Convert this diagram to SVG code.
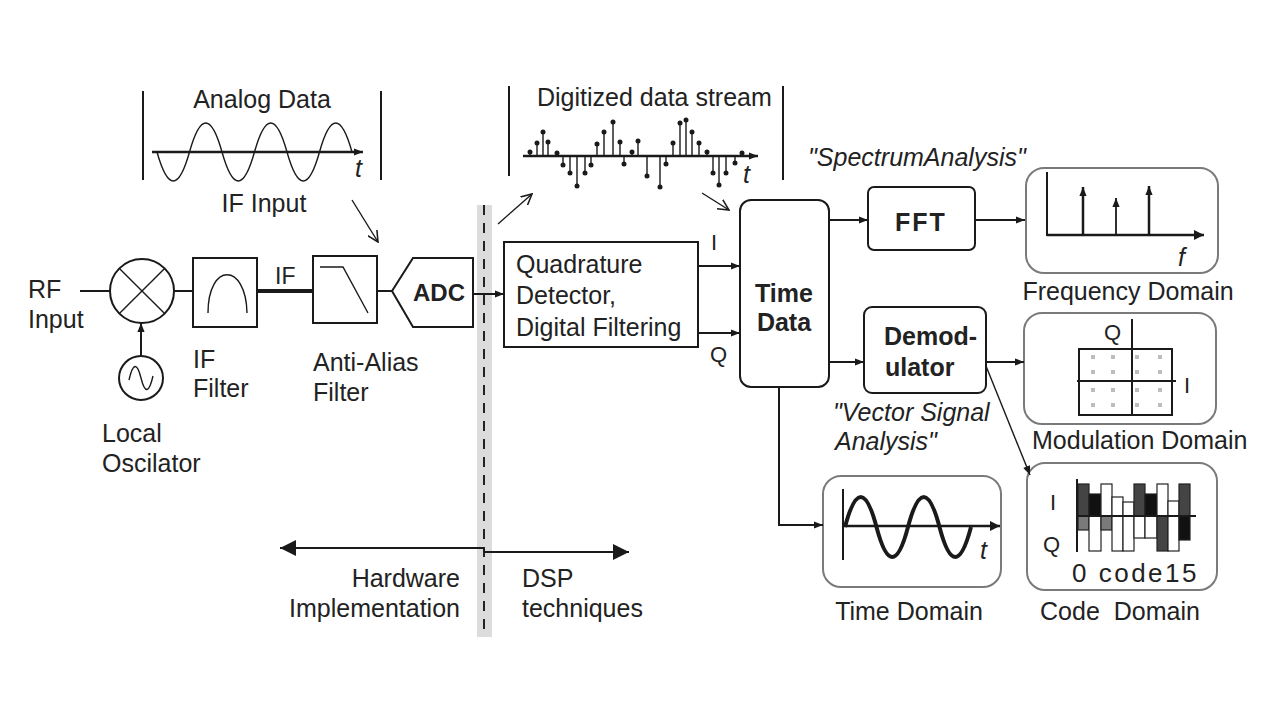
<svg xmlns="http://www.w3.org/2000/svg" width="1280" height="720" viewBox="0 0 1280 720">
<style>
text{font-family:"Liberation Sans",Arial,sans-serif;font-size:25px;fill:#222}
.b{font-weight:bold}
.it{font-style:italic}
.mid{text-anchor:middle}
.end{text-anchor:end}
.ln{stroke:#1a1a1a;stroke-width:2;fill:none}
.thin{stroke:#1a1a1a;stroke-width:1.4;fill:none}
.box{stroke:#1a1a1a;stroke-width:2;fill:#fff}
.panel{stroke:#7a7a7a;stroke-width:2;fill:#fff}
.bar{stroke:#222;stroke-width:1.2}
</style>
<defs>
<marker id="arr" viewBox="0 0 10 10" refX="10" refY="5" markerWidth="10" markerHeight="9" markerUnits="userSpaceOnUse" orient="auto"><path d="M0,1 L10,5 L0,9 z" fill="#1a1a1a"/></marker>
<marker id="arrs" viewBox="0 0 10 10" refX="10" refY="5" markerWidth="12" markerHeight="10" markerUnits="userSpaceOnUse" orient="auto"><path d="M0,0 L10,5 L0,10 z" fill="#1a1a1a"/></marker>
<marker id="big" viewBox="0 0 10 10" refX="10" refY="5" markerWidth="22" markerHeight="16" markerUnits="userSpaceOnUse" orient="auto"><path d="M0,0 L10,5 L0,10 z" fill="#1a1a1a"/></marker>
<marker id="open" viewBox="0 0 10 10" refX="9" refY="5" markerWidth="12" markerHeight="12" markerUnits="userSpaceOnUse" orient="auto"><path d="M0,0.5 L9,5 L0,9.5" fill="none" stroke="#1a1a1a" stroke-width="1.3"/></marker>
<clipPath id="clipR"><rect x="0" y="0" width="1248" height="720"/></clipPath>
</defs>
<rect width="1280" height="720" fill="#fff"/>

<!-- divider band -->
<g id="divider">
<rect x="477" y="205" width="15" height="432" fill="#dcdcdc"/>
<line x1="484" y1="205" x2="484" y2="637" stroke="#222" stroke-width="2" stroke-dasharray="10 8"/>
</g>

<!-- Analog data inset -->
<g id="analog-data">
<line x1="143" y1="91" x2="143" y2="180" class="ln"/>
<line x1="381" y1="91" x2="381" y2="180" class="ln"/>
<text x="262" y="108" class="mid">Analog Data</text>
<line x1="152" y1="152" x2="363" y2="152" stroke="#1a1a1a" stroke-width="2.5" marker-end="url(#arr)"/>
<path d="M157,152 Q173.25,210 189.5,152 Q205.75,94 222,152 Q238.25,210 254.5,152 Q270.75,94 287,152 Q303.25,210 319.5,152 Q335.75,94 352,152" class="thin"/>
<text x="355" y="177" class="it">t</text>
<text x="264" y="212" class="mid">IF Input</text>
</g>

<!-- Digitized data stream inset -->
<g id="digitized-data">
<line x1="509" y1="86" x2="509" y2="176" class="ln"/>
<line x1="783" y1="86" x2="783" y2="180" class="ln"/>
<text x="537" y="106">Digitized data stream</text>
<line x1="523" y1="156" x2="758" y2="156" stroke="#1a1a1a" stroke-width="2.5" marker-end="url(#arr)"/>
<path class="thin" stroke-width="1.6" d="M530,156V152 M537,156V143 M543,156V132 M548,156V142 M557,156V153 M563,156V165 M570,156V173 M577,156V186 M585,156V173 M591,156V165 M597,156V144 M604,156V132 M613,156V122 M620,156V142 M624,156V164 M632,156V152 M638,156V141 M647,156V176 M660,156V187 M666,156V164 M673,156V143 M680,156V123 M686,156V120 M692,156V132 M699,156V143 M707,156V152 M713,156V173 M719,156V185 M726,156V173 M735,156V163 M742,156V153"/>
<g fill="#1a1a1a">
<circle cx="530" cy="152" r="2.5"/><circle cx="537" cy="143" r="2.5"/><circle cx="543" cy="132" r="2.5"/><circle cx="548" cy="142" r="2.5"/><circle cx="557" cy="153" r="2.5"/><circle cx="563" cy="165" r="2.5"/><circle cx="570" cy="173" r="2.5"/><circle cx="577" cy="186" r="2.5"/><circle cx="585" cy="173" r="2.5"/><circle cx="591" cy="165" r="2.5"/><circle cx="597" cy="144" r="2.5"/><circle cx="604" cy="132" r="2.5"/><circle cx="613" cy="122" r="2.5"/><circle cx="620" cy="142" r="2.5"/><circle cx="624" cy="164" r="2.5"/><circle cx="632" cy="152" r="2.5"/><circle cx="638" cy="141" r="2.5"/><circle cx="647" cy="176" r="2.5"/><circle cx="660" cy="187" r="2.5"/><circle cx="666" cy="164" r="2.5"/><circle cx="673" cy="143" r="2.5"/><circle cx="680" cy="123" r="2.5"/><circle cx="686" cy="120" r="2.5"/><circle cx="692" cy="132" r="2.5"/><circle cx="699" cy="143" r="2.5"/><circle cx="707" cy="152" r="2.5"/><circle cx="713" cy="173" r="2.5"/><circle cx="719" cy="185" r="2.5"/><circle cx="726" cy="173" r="2.5"/><circle cx="735" cy="163" r="2.5"/><circle cx="742" cy="153" r="2.5"/>
</g>
<text x="743" y="183" class="it">t</text>
</g>

<!-- RF input label -->
<g id="rf-input">
<text x="28" y="298">RF</text>
<text x="28" y="328">Input</text>
</g>

<!-- Mixer -->
<g id="mixer">
<circle cx="142" cy="291" r="32" class="box"/>
<line x1="119.4" y1="268.4" x2="164.6" y2="313.6" class="thin"/>
<line x1="164.6" y1="268.4" x2="119.4" y2="313.6" class="thin"/>
</g>

<!-- Local oscillator -->
<g id="local-oscillator">
<circle cx="141" cy="378" r="22" class="box"/>
<path d="M129,380 Q135,354 141,378 Q147,402 153,376" class="thin" stroke-width="1.8"/>
<text x="102" y="442">Local</text>
<text x="102" y="472">Oscilator</text>
</g>

<!-- IF filter -->
<g id="if-filter">
<rect x="193" y="258" width="64" height="69" class="box"/>
<path d="M208,313 C208,262 246,262 247,313" class="thin" stroke-width="1.8"/>
<text x="193" y="368">IF</text>
<text x="193" y="397">Filter</text>
</g>

<!-- Anti-alias filter -->
<g id="anti-alias-filter">
<rect x="313" y="256" width="64" height="67" class="box"/>
<path d="M320,267 L343,267 L368,313" class="thin" stroke-width="1.8"/>
<text x="313" y="371">Anti-Alias</text>
<text x="313" y="401">Filter</text>
</g>

<!-- ADC -->
<g id="adc">
<path d="M392,291 L413,258 L473,258 L473,327 L413,327 Z" class="box"/>
<text x="439" y="301" class="b mid" style="font-size:24px">ADC</text>
</g>

<!-- Quadrature detector -->
<g id="quadrature-detector">
<rect x="504" y="242" width="194" height="105" class="box"/>
<text x="516" y="273">Quadrature</text>
<text x="516" y="304">Detector,</text>
<text x="516" y="336">Digital Filtering</text>
</g>

<!-- Time data -->
<g id="time-data">
<rect x="740" y="200" width="89" height="187" rx="11" class="box"/>
<text x="784" y="302" class="b mid">Time</text>
<text x="784" y="331" class="b mid">Data</text>
</g>

<!-- FFT -->
<g id="fft">
<text x="808" y="166" class="it">"SpectrumAnalysis"</text>
<rect x="868" y="187" width="107" height="63" rx="6" class="box"/>
<text x="921" y="231" class="b mid" style="letter-spacing:2px">FFT</text>
</g>

<!-- Frequency domain -->
<g id="frequency-domain">
<rect x="1026" y="168" width="192" height="105" rx="18" class="panel"/>
<line x1="1047" y1="172" x2="1047" y2="236" class="ln"/>
<line x1="1047" y1="235" x2="1204" y2="235" stroke="#1a1a1a" stroke-width="2.5" marker-end="url(#arrs)"/>
<line x1="1083" y1="235" x2="1083" y2="187" stroke="#1a1a1a" stroke-width="2.5" marker-end="url(#arr)"/>
<line x1="1116" y1="235" x2="1116" y2="198" stroke="#1a1a1a" stroke-width="1.8" marker-end="url(#arr)"/>
<line x1="1149" y1="235" x2="1149" y2="186" stroke="#1a1a1a" stroke-width="2.5" marker-end="url(#arr)"/>
<text x="1178" y="266" class="it">f</text>
<text x="1128" y="300" class="mid">Frequency Domain</text>
</g>

<!-- Demodulator -->
<g id="demodulator">
<rect x="864" y="307" width="122" height="86" rx="8" class="box"/>
<text x="884" y="345" class="b">Demod-</text>
<text x="885" y="376" class="b">ulator</text>
<text x="833" y="421" class="it">"Vector Signal</text>
<text x="835" y="450" class="it">Analysis"</text>
</g>

<!-- Modulation domain -->
<g id="modulation-domain">
<rect x="1024" y="313" width="192" height="111" rx="18" class="panel"/>
<rect x="1079" y="349" width="93" height="66" fill="none" class="ln"/>
<line x1="1132" y1="319" x2="1132" y2="415" class="ln"/>
<line x1="1077" y1="381" x2="1176" y2="381" class="ln"/>
<g fill="#bdbdbd">
<rect x="1091" y="355" width="4" height="4"/><rect x="1111" y="355" width="4" height="4"/><rect x="1135" y="355" width="4" height="4"/><rect x="1158" y="355" width="4" height="4"/>
<rect x="1091" y="370" width="4" height="4"/><rect x="1111" y="370" width="4" height="4"/><rect x="1135" y="370" width="4" height="4"/><rect x="1158" y="370" width="4" height="4"/>
<rect x="1091" y="388" width="4" height="4"/><rect x="1111" y="388" width="4" height="4"/><rect x="1135" y="388" width="4" height="4"/><rect x="1158" y="388" width="4" height="4"/>
<rect x="1091" y="403" width="4" height="4"/><rect x="1111" y="403" width="4" height="4"/><rect x="1135" y="403" width="4" height="4"/><rect x="1158" y="403" width="4" height="4"/>
</g>
<text x="1104" y="340" style="font-size:22px">Q</text>
<text x="1184" y="393" style="font-size:22px">I</text>
<text x="1032" y="449" clip-path="url(#clipR)">Modulation Domain</text>
</g>

<!-- Time domain -->
<g id="time-domain">
<rect x="823" y="476" width="178" height="111" rx="18" class="panel"/>
<line x1="843" y1="489" x2="843" y2="560" class="ln"/>
<line x1="843" y1="526" x2="1000" y2="526" stroke="#1a1a1a" stroke-width="2.5" marker-end="url(#arrs)"/>
<path d="M845,527 Q860.75,467 876.5,527 Q892.25,587 908,527 Q923.75,467 939.5,527 Q955.25,587 971,527" stroke="#1a1a1a" stroke-width="4" fill="none"/>
<text x="980" y="559" class="it">t</text>
<text x="909" y="620" class="mid">Time Domain</text>
</g>

<!-- Code domain -->
<g id="code-domain">
<rect x="1027" y="463" width="190" height="127" rx="18" class="panel"/>
<g class="bar">
<rect x="1078" y="484" width="11" height="32" fill="#444"/>
<rect x="1089" y="494" width="12" height="22" fill="#111"/>
<rect x="1101" y="484" width="11" height="32" fill="#fff"/>
<rect x="1112" y="497" width="11" height="19" fill="#fff"/>
<rect x="1123" y="502" width="11" height="14" fill="#fff"/>
<rect x="1134" y="484" width="11" height="32" fill="#444"/>
<rect x="1145" y="494" width="12" height="22" fill="#111"/>
<rect x="1157" y="484" width="11" height="32" fill="#fff"/>
<rect x="1168" y="501" width="11" height="15" fill="#fff"/>
<rect x="1179" y="484" width="11" height="32" fill="#444"/>
<rect x="1078" y="516" width="11" height="14" fill="#7a7a7a"/>
<rect x="1089" y="516" width="12" height="35" fill="#fff"/>
<rect x="1101" y="516" width="11" height="14" fill="#7a7a7a"/>
<rect x="1112" y="516" width="11" height="35" fill="#fff"/>
<rect x="1123" y="516" width="11" height="35" fill="#fff"/>
<rect x="1134" y="516" width="11" height="22" fill="#fff"/>
<rect x="1145" y="516" width="12" height="22" fill="#fff"/>
<rect x="1157" y="516" width="11" height="35" fill="#444"/>
<rect x="1168" y="516" width="11" height="35" fill="#fff"/>
<rect x="1179" y="516" width="11" height="24" fill="#111"/>
</g>
<line x1="1077" y1="479" x2="1077" y2="552" class="ln"/>
<line x1="1077" y1="516" x2="1196" y2="516" class="ln"/>
<text x="1050" y="510" style="font-size:22px">I</text>
<text x="1043" y="552" style="font-size:22px">Q</text>
<text x="1072" y="582" style="font-size:26px;letter-spacing:2.5px">0 code15</text>
<text x="1120" y="620" class="mid" style="word-spacing:7px">Code Domain</text>
</g>

<!-- Hardware / DSP labels -->
<g id="domain-labels">
<text x="460" y="587" class="end">Hardware</text>
<text x="460" y="617" class="end">Implementation</text>
<text x="522" y="587">DSP</text>
<text x="522" y="617">techniques</text>
</g>

<!-- Connectors -->
<g id="connectors">
<line x1="80" y1="291" x2="110" y2="291" class="ln"/>
<line x1="174" y1="291" x2="193" y2="291" class="ln"/>
<line x1="257" y1="291" x2="313" y2="291" stroke="#1a1a1a" stroke-width="4"/>
<text x="275" y="284" style="font-size:23px">IF</text>
<line x1="377" y1="291" x2="392" y2="291" class="ln"/>
<line x1="141" y1="356" x2="141" y2="323" class="ln" marker-end="url(#arr)"/>
<line x1="473" y1="294" x2="504" y2="294" class="ln" marker-end="url(#arr)"/>
<line x1="698" y1="266" x2="740" y2="266" class="ln" marker-end="url(#arr)"/>
<text x="711" y="250" style="font-size:22px">I</text>
<line x1="698" y1="333" x2="740" y2="333" class="ln" marker-end="url(#arr)"/>
<text x="710" y="362" style="font-size:22px">Q</text>
<line x1="829" y1="220" x2="868" y2="220" class="ln" marker-end="url(#arr)"/>
<line x1="975" y1="220" x2="1025" y2="220" class="ln" marker-end="url(#arr)"/>
<line x1="829" y1="362" x2="864" y2="362" class="ln" marker-end="url(#arr)"/>
<line x1="986" y1="362" x2="1024" y2="362" class="ln" marker-end="url(#arr)"/>
<line x1="986" y1="366" x2="1030" y2="475" class="thin" stroke-width="1.6" marker-end="url(#arr)"/>
<polyline points="779,387 779,525 823,525" class="ln" marker-end="url(#arr)"/>
<line x1="352" y1="200" x2="378" y2="242" class="thin" marker-end="url(#open)"/>
<line x1="498" y1="224" x2="532" y2="194" class="thin" marker-end="url(#open)"/>
<line x1="702" y1="193" x2="729" y2="210" class="thin" marker-end="url(#open)"/>
<line x1="484" y1="548" x2="280" y2="548" class="ln" marker-end="url(#big)"/>
<line x1="484" y1="552" x2="629" y2="552" class="ln" marker-end="url(#big)"/>
<line x1="484" y1="548" x2="484" y2="552" class="ln"/>
</g>
</svg>
